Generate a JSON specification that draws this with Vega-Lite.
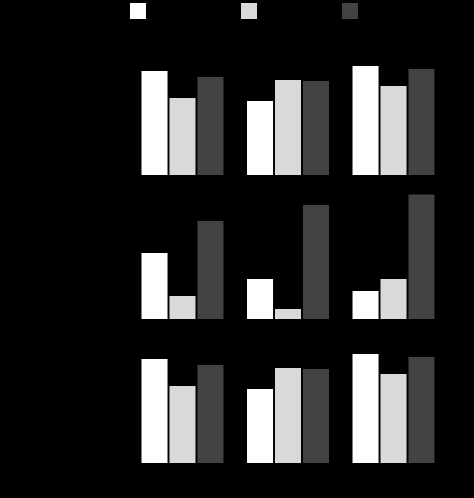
{
  "$schema": "https://vega.github.io/schema/vega-lite/v6.json",
  "background": "black",
  "padding": {"left": 71, "top": 3, "right": 28, "bottom": 19},
  "data": {
    "values": [
      {"panel": "Panel A", "group": "Group 1", "series": "Control conditions", "value": 104},
      {"panel": "Panel A", "group": "Group 1", "series": "Treatment team", "value": 77},
      {"panel": "Panel A", "group": "Group 1", "series": "Comparison group", "value": 98},
      {"panel": "Panel A", "group": "Group 2", "series": "Control conditions", "value": 74},
      {"panel": "Panel A", "group": "Group 2", "series": "Treatment team", "value": 95},
      {"panel": "Panel A", "group": "Group 2", "series": "Comparison group", "value": 94},
      {"panel": "Panel A", "group": "Group 3", "series": "Control conditions", "value": 109},
      {"panel": "Panel A", "group": "Group 3", "series": "Treatment team", "value": 89},
      {"panel": "Panel A", "group": "Group 3", "series": "Comparison group", "value": 106},
      {"panel": "Panel B", "group": "Group 1", "series": "Control conditions", "value": 66},
      {"panel": "Panel B", "group": "Group 1", "series": "Treatment team", "value": 23},
      {"panel": "Panel B", "group": "Group 1", "series": "Comparison group", "value": 98},
      {"panel": "Panel B", "group": "Group 2", "series": "Control conditions", "value": 40},
      {"panel": "Panel B", "group": "Group 2", "series": "Treatment team", "value": 10},
      {"panel": "Panel B", "group": "Group 2", "series": "Comparison group", "value": 114},
      {"panel": "Panel B", "group": "Group 3", "series": "Control conditions", "value": 28},
      {"panel": "Panel B", "group": "Group 3", "series": "Treatment team", "value": 40},
      {"panel": "Panel B", "group": "Group 3", "series": "Comparison group", "value": 124.5},
      {"panel": "Panel C", "group": "Group 1", "series": "Control conditions", "value": 104},
      {"panel": "Panel C", "group": "Group 1", "series": "Treatment team", "value": 77},
      {"panel": "Panel C", "group": "Group 1", "series": "Comparison group", "value": 98},
      {"panel": "Panel C", "group": "Group 2", "series": "Control conditions", "value": 74},
      {"panel": "Panel C", "group": "Group 2", "series": "Treatment team", "value": 95},
      {"panel": "Panel C", "group": "Group 2", "series": "Comparison group", "value": 94},
      {"panel": "Panel C", "group": "Group 3", "series": "Control conditions", "value": 109},
      {"panel": "Panel C", "group": "Group 3", "series": "Treatment team", "value": 89},
      {"panel": "Panel C", "group": "Group 3", "series": "Comparison group", "value": 106}
    ]
  },
  "facet": {
    "row": {
      "field": "panel",
      "type": "nominal",
      "sort": null,
      "header": {"title": null, "labelColor": "black"}
    }
  },
  "spacing": {"row": 19},
  "spec": {
    "width": 316,
    "height": 125,
    "mark": {"type": "bar"},
    "encoding": {
      "x": {
        "field": "group",
        "type": "nominal",
        "sort": null,
        "title": null,
        "scale": {"paddingInner": 0.223, "paddingOuter": 0.109},
        "axis": {"labelAngle": 0}
      },
      "xOffset": {
        "field": "series",
        "sort": ["Control conditions", "Treatment team", "Comparison group"],
        "scale": {"paddingInner": 0.07, "paddingOuter": 0}
      },
      "y": {
        "field": "value",
        "type": "quantitative",
        "title": "Value",
        "scale": {"domain": [0, 125], "nice": false}
      },
      "color": {
        "field": "series",
        "type": "nominal",
        "scale": {
          "domain": ["Control conditions", "Treatment team", "Comparison group"],
          "range": ["#ffffff", "#d9d9d9", "#434343"]
        },
        "legend": {
          "title": null,
          "orient": "top",
          "direction": "horizontal",
          "offset": 31.5,
          "symbolType": "square",
          "symbolSize": 256,
          "symbolStrokeWidth": 0,
          "labelColor": "black"
        }
      }
    }
  },
  "config": {
    "view": {"stroke": null},
    "axis": {
      "grid": false,
      "labelColor": "black",
      "titleColor": "black",
      "domainColor": "black",
      "tickColor": "black"
    }
  }
}
